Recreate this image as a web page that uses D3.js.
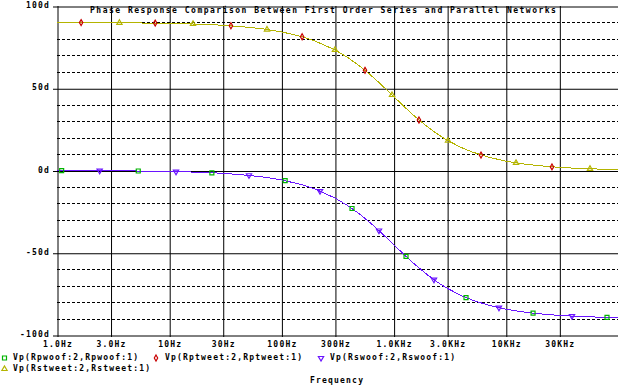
<!DOCTYPE html>
<html lang="en">

<head>
    <meta charset="UTF-8" />
    <title>Phase Response Comparison</title>
    <script src="https://d3js.org/d3.v7.min.js"></script>
    <style>
        body {
            margin: 0;
            background: #fff;
        }

        svg text {
            font-family: "DejaVu Sans Mono", monospace;
            font-weight: bold;
            font-size: 8px;
            letter-spacing: 1.2px;
            fill: #000;
        }
    </style>
</head>

<body>
    <svg id="chart" width="624" height="390"></svg>

    <script>
        // frequencies (Hz) of the traced points
        const freqs = [1, 2, 3, 5, 7, 10, 20, 30, 50, 70, 100, 150, 200, 300, 400, 500, 600, 700, 800,
            1000, 1200, 1500, 2000, 2500, 3000, 4000, 5000, 7000, 10000, 15000, 20000, 30000, 50000, 100000];

        // tweeter phase (deg) - parallel and series traces lie on top of each other
        const phaseTweet = [89.9, 89.9, 89.8, 89.7, 89.6, 89.4, 88.9, 88.3, 87.1, 86.0, 84.3, 81.5, 78.7, 73.3,
            68.2, 63.4, 59.0, 55.0, 51.3, 45.0, 39.8, 33.7, 26.6, 21.8, 18.4, 14.0, 11.3, 8.1, 5.7, 3.8, 2.9, 1.9, 1.1, 0.6];

        // woofer phase (deg)
        const phaseWoof = [-0.1, -0.1, -0.2, -0.3, -0.4, -0.6, -1.1, -1.7, -2.9, -4.0, -5.7, -8.5, -11.3, -16.7,
            -21.8, -26.6, -31.0, -35.0, -38.7, -45.0, -50.2, -56.3, -63.4, -68.2, -71.6, -76.0, -78.7, -81.9,
            -84.3, -86.2, -87.1, -88.1, -88.9, -89.4];

        // marker positions per trace
        const rpwoofMarkF = [1.1, 5.3, 24, 108, 426, 1290, 4420, 17500, 79800];
        const rpwoofMarkP = [-0.1, -0.3, -1.4, -6.1, -23.1, -52.2, -77.3, -86.7, -89.3];
        const rptweetMarkF = [1.64, 7.5, 35.5, 153, 556, 1683, 6010, 25800];
        const rptweetMarkP = [89.9, 89.6, 88.0, 81.3, 60.9, 30.7, 9.4, 2.2];
        const rswoofMarkF = [2.4, 11.5, 51.4, 221, 741, 2290, 8690, 38900];
        const rswoofMarkP = [-0.1, -0.7, -2.9, -12.5, -36.5, -66.4, -83.4, -88.5];
        const rstweetMarkF = [3.6, 16.3, 74.4, 300, 968, 3055, 12330, 56300];
        const rstweetMarkP = [89.8, 89.1, 85.7, 73.3, 45.9, 18.1, 4.6, 1.0];

        const xTicks = [1, 3, 10, 30, 100, 300, 1000, 3000, 10000, 30000];
        const xTickLabels = ["1.0Hz", "3.0Hz", "10Hz", "30Hz", "100Hz", "300Hz", "1.0KHz", "3.0KHz", "10KHz", "30KHz"];
        const yTicks = [100, 50, 0, -50, -100];
        const yTickLabels = ["100d", "50d", "0d", "-50d", "-100d"];

        const traceNames = ["Vp(Rpwoof:2,Rpwoof:1)", "Vp(Rptweet:2,Rptweet:1)", "Vp(Rswoof:2,Rswoof:1)", "Vp(Rstweet:2,Rstweet:1)"];

        const green = "#00b400", red = "#c80000", blue = "#6a14ff", yellow = "#b4b400";

        const plotL = 57, plotR = 618, plotT = 6, plotB = 335;

        const svg = d3.select("#chart");
        const x = d3.scaleLog().domain([1, 100000]).range([plotL, plotR]);
        const y = d3.scaleLinear().domain([-100, 100]).range([plotB, plotT]);

        // dashed minor gridlines every 10d
        const minor = d3.range(-90, 100, 10).filter(d => d % 50 !== 0);
        svg.append("g").selectAll("line").data(minor).join("line")
            .attr("x1", plotL).attr("x2", plotR)
            .attr("y1", d => Math.round(y(d)) + 0.5).attr("y2", d => Math.round(y(d)) + 0.5)
            .attr("stroke", "#000").attr("stroke-dasharray", "3,2");

        // y axis with solid major lines
        const yAxis = svg.append("g")
            .attr("transform", `translate(${plotL},0.5)`)
            .call(d3.axisLeft(y).tickValues(yTicks).tickFormat((d, i) => yTickLabels[i])
                .tickSizeInner(4).tickSizeOuter(0).tickPadding(3));
        yAxis.select(".domain").remove();
        yAxis.selectAll(".tick line").clone()
            .attr("x2", plotR - plotL);
        yAxis.selectAll(".tick line").attr("stroke", "#000");
        yAxis.selectAll("text").attr("dy", 1).attr("font-size", null).attr("font-family", null);

        // x axis with solid vertical gridlines
        const xAxis = svg.append("g")
            .attr("transform", `translate(0.5,${plotB})`)
            .call(d3.axisBottom(x).tickValues(xTicks).tickFormat((d, i) => xTickLabels[i])
                .tickSizeInner(-(plotB - plotT)).tickSizeOuter(0).tickPadding(6));
        xAxis.select(".domain").remove();
        xAxis.selectAll(".tick line").attr("y2", -(plotB - plotT)).attr("y1", 2).attr("stroke", "#000");
        xAxis.selectAll("text").attr("font-size", null).attr("font-family", null);

        // traces (crisp, like the original plotter output)
        const line = (vals) => d3.line()
            .x((d, i) => x(freqs[i]))
            .y(d => y(d))(vals);

        [[phaseWoof, green], [phaseTweet, red], [phaseWoof, blue], [phaseTweet, yellow]].forEach(([vals, c]) => {
            svg.append("path")
                .attr("d", line(vals))
                .attr("fill", "none")
                .attr("stroke", c)
                .attr("stroke-width", 1)
                .attr("shape-rendering", "crispEdges");
        });

        // marker shapes
        const symSquare = d3.symbol().type(d3.symbolSquare).size(16);
        const symDiamond = d3.symbol().type(d3.symbolDiamond).size(10);
        const symTri = d3.symbol().type(d3.symbolTriangle).size(12);

        const markers = [
            { f: rpwoofMarkF, p: rpwoofMarkP, sym: symSquare, c: green, rot: 0 },
            { f: rptweetMarkF, p: rptweetMarkP, sym: symDiamond, c: red, rot: 0 },
            { f: rswoofMarkF, p: rswoofMarkP, sym: symTri, c: blue, rot: 180 },
            { f: rstweetMarkF, p: rstweetMarkP, sym: symTri, c: yellow, rot: 0 }
        ];

        markers.forEach(m => {
            svg.append("g").selectAll("path").data(m.f).join("path")
                .attr("d", m.sym())
                .attr("transform", (d, i) => `translate(${x(d)},${y(m.p[i])}) rotate(${m.rot})`)
                .attr("fill", "none")
                .attr("stroke", m.c)
                .attr("stroke-width", 1.2);
        });

        // title
        svg.append("text")
            .attr("x", 90).attr("y", 13)
            .style("letter-spacing", "1.5px")
            .text("Phase Response Comparison Between First Order Series and Parallel Networks");

        // legend
        const legendPos = [[4.5, 358, 13, 360], [156, 358, 165, 360], [321, 358, 330, 360], [4.5, 369, 13, 371]];
        markers.forEach((m, i) => {
            const [mx, my, tx, ty] = legendPos[i];
            svg.append("path")
                .attr("d", m.sym())
                .attr("transform", `translate(${mx},${my}) rotate(${m.rot})`)
                .attr("fill", "none")
                .attr("stroke", m.c)
                .attr("stroke-width", 1.2);
            svg.append("text").attr("x", tx).attr("y", ty).text(traceNames[i]);
        });

        svg.append("text")
            .attr("x", 310).attr("y", 383)
            .text("Frequency");
    </script>
</body>

</html>
